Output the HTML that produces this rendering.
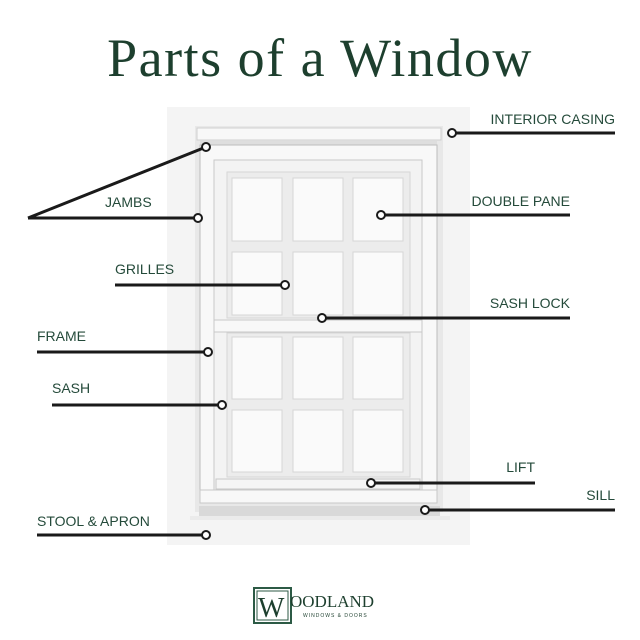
<!DOCTYPE html>
<html><head><meta charset="utf-8"><style>
html,body{margin:0;padding:0;background:#fff;}
svg{display:block;}
</style></head><body>
<svg width="640" height="640" viewBox="0 0 640 640" xmlns="http://www.w3.org/2000/svg">
<rect width="640" height="640" fill="#fff"/>
<text x="320" y="76" text-anchor="middle" font-family="Liberation Serif, serif" font-size="54" letter-spacing="1.5" fill="#1d3f2e">Parts of a Window</text>
<!-- casing -->
<rect x="167" y="107" width="303" height="438" fill="#f4f4f4"/>
<rect x="195" y="126" width="248" height="386" fill="#e8e8e8"/>
<rect x="197" y="128" width="244" height="12" fill="#f8f8f8" stroke="#cfcfcf" stroke-width="1"/>
<rect x="200" y="141" width="237" height="6" fill="#dedede"/>
<!-- frame -->
<rect x="200" y="145" width="237" height="358" fill="#f8f8f8" stroke="#bdbdbd" stroke-width="1"/>
<rect x="214" y="160" width="208" height="330" fill="#f3f3f3" stroke="#c8c8c8" stroke-width="1"/>
<!-- upper glass -->
<g fill="#fafafa" stroke="#d6d6d6" stroke-width="1">
<rect x="227" y="172" width="183" height="146" fill="#ececec"/>
<rect x="232" y="178" width="50" height="63"/><rect x="293" y="178" width="50" height="63"/><rect x="353" y="178" width="50" height="63"/>
<rect x="232" y="252" width="50" height="63"/><rect x="293" y="252" width="50" height="63"/><rect x="353" y="252" width="50" height="63"/>
</g>
<rect x="214" y="320" width="208" height="12" fill="#f8f8f8" stroke="#c8c8c8" stroke-width="1"/>
<!-- lower glass -->
<g fill="#fafafa" stroke="#d6d6d6" stroke-width="1">
<rect x="227" y="333" width="183" height="144" fill="#ececec"/>
<rect x="232" y="337" width="50" height="62"/><rect x="293" y="337" width="50" height="62"/><rect x="353" y="337" width="50" height="62"/>
<rect x="232" y="410" width="50" height="62"/><rect x="293" y="410" width="50" height="62"/><rect x="353" y="410" width="50" height="62"/>
</g>
<rect x="216" y="479" width="204" height="10" fill="#f5f5f5" stroke="#c8c8c8" stroke-width="1"/>
<rect x="200" y="490" width="237" height="13" fill="#f8f8f8" stroke="#c8c8c8" stroke-width="1"/>
<rect x="199" y="506" width="241" height="10" fill="#d9d9d9"/>
<rect x="190" y="516" width="260" height="4" fill="#ebebeb"/>
<!-- leaders -->
<g stroke="#1a1a1a" stroke-width="3" fill="none">
<line x1="452" y1="133" x2="615" y2="133"/>
<line x1="206" y1="147" x2="28" y2="218"/><line x1="28" y1="218" x2="198" y2="218"/>
<line x1="381" y1="215" x2="570" y2="215"/>
<line x1="115" y1="285" x2="285" y2="285"/>
<line x1="322" y1="318" x2="570" y2="318"/>
<line x1="37" y1="352" x2="208" y2="352"/>
<line x1="52" y1="405" x2="222" y2="405"/>
<line x1="371" y1="483" x2="535" y2="483"/>
<line x1="425" y1="510" x2="615" y2="510"/>
<line x1="37" y1="535" x2="206" y2="535"/>
</g>
<g fill="#fff" stroke="#1a1a1a" stroke-width="2">
<circle cx="452" cy="133" r="4"/><circle cx="206" cy="147" r="4"/><circle cx="198" cy="218" r="4"/>
<circle cx="381" cy="215" r="4"/><circle cx="285" cy="285" r="4"/><circle cx="322" cy="318" r="4"/>
<circle cx="208" cy="352" r="4"/><circle cx="222" cy="405" r="4"/><circle cx="371" cy="483" r="4"/>
<circle cx="425" cy="510" r="4"/><circle cx="206" cy="535" r="4"/>
</g>
<g font-family="Liberation Sans, sans-serif" font-size="14" fill="#244a3a">
<text x="615" y="124" text-anchor="end">INTERIOR CASING</text>
<text x="105" y="207">JAMBS</text>
<text x="570" y="206" text-anchor="end">DOUBLE PANE</text>
<text x="115" y="274">GRILLES</text>
<text x="570" y="308" text-anchor="end">SASH LOCK</text>
<text x="37" y="341">FRAME</text>
<text x="52" y="393">SASH</text>
<text x="535" y="472" text-anchor="end">LIFT</text>
<text x="615" y="500" text-anchor="end">SILL</text>
<text x="37" y="526">STOOL &amp; APRON</text>
</g>
<!-- logo -->
<rect x="254" y="588" width="37" height="35" fill="none" stroke="#2c5a45" stroke-width="2"/>
<rect x="257" y="591" width="31" height="29" fill="none" stroke="#2c5a45" stroke-width="1"/>
<text x="258" y="617" font-family="Liberation Serif, serif" font-size="28" fill="#1d3f2e">W</text>
<text x="290" y="607" font-family="Liberation Serif, serif" font-size="17" fill="#1d3f2e">OODLAND</text>
<text x="303" y="617" font-family="Liberation Sans, sans-serif" font-size="5" letter-spacing="1" fill="#1d3f2e">WINDOWS &amp; DOORS</text>
</svg>
</body></html>
